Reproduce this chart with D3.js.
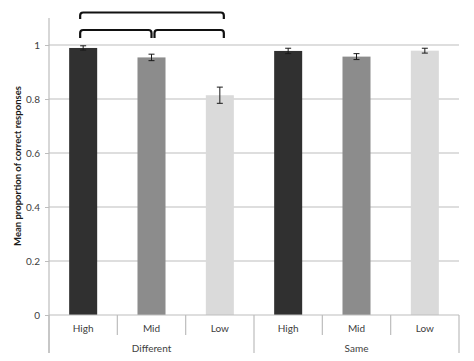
<!DOCTYPE html>
<html><head><meta charset="utf-8">
<script src="https://cdn.jsdelivr.net/npm/d3@7"></script>
<style>body{margin:0;background:#fff}svg{display:block}text{font-family:Lato,"Open Sans",sans-serif}</style>
</head><body>
<svg id="c" width="474" height="361"></svg>
<script>
const groups = ["Different", "Same"];
const levels = ["High", "Mid", "Low"];
const means = [0.989, 0.954, 0.814, 0.978, 0.957, 0.979];
const errors = [0.008, 0.012, 0.030, 0.010, 0.011, 0.009];
const colors = ["#303030", "#8c8c8c", "#dadada"];
const yTicks = [0, 0.2, 0.4, 0.6, 0.8, 1];
const yTickLabels = ["0", "0.2", "0.4", "0.6", "0.8", "1"];
const brackets = [ {from: 0, to: 2, level: 2}, {from: 0, to: 1, level: 1}, {from: 1, to: 2, level: 1} ];

const cats = [];
groups.forEach((g, gi) => levels.forEach((l, li) => cats.push({id: gi*3+li, group: g, level: l, li})));

const svg = d3.select("#c");
const left = 49, right = 459, y0 = 315;
const x = d3.scaleBand().domain(cats.map(d => d.id)).range([left, right]).paddingInner(0).paddingOuter(0);
const y = d3.scaleLinear().domain([0, 1.1]).range([y0, 18]);
const bw = x.bandwidth() * 0.41;

// gridlines
svg.append("g").selectAll("line").data(yTicks.filter(d => d > 0)).join("line")
  .attr("x1", left).attr("x2", right).attr("y1", d => y(d)).attr("y2", d => y(d))
  .attr("stroke", "#bdbdbd").attr("stroke-width", 1.2);

// y axis
const yAxis = d3.axisLeft(y).tickValues(yTicks).tickFormat((d, i) => yTickLabels[i]).tickSize(4).tickPadding(5);
const ya = svg.append("g").attr("transform", `translate(${left},0)`).call(yAxis);
ya.select(".domain").remove();
ya.selectAll(".tick line").attr("stroke", "#bdbdbd");
ya.selectAll(".tick text").attr("font-size", 10).attr("fill", "#404040");
svg.append("line").attr("x1", left).attr("x2", left).attr("y1", y(1.1)).attr("y2", 353).attr("stroke", "#bdbdbd").attr("stroke-width", 1.2);

// bars
svg.append("g").selectAll("rect").data(cats).join("rect")
  .attr("x", d => x(d.id) + x.bandwidth()/2 - bw/2)
  .attr("width", bw)
  .attr("y", d => y(means[d.id]))
  .attr("height", d => y(0) - y(means[d.id]))
  .attr("fill", d => colors[d.li]);

// error bars
const eb = svg.append("g").attr("stroke", "#1a1a1a").attr("stroke-width", 1);
cats.forEach(d => {
  const cx = x(d.id) + x.bandwidth()/2;
  const hi = y(means[d.id] + errors[d.id]), lo = y(means[d.id] - errors[d.id]);
  eb.append("line").attr("x1", cx).attr("x2", cx).attr("y1", hi).attr("y2", lo);
  eb.append("line").attr("x1", cx-3).attr("x2", cx+3).attr("y1", hi).attr("y2", hi);
  eb.append("line").attr("x1", cx-3).attr("x2", cx+3).attr("y1", lo).attr("y2", lo);
});

// x axis baseline
svg.append("line").attr("x1", left).attr("x2", right).attr("y1", y0).attr("y2", y0).attr("stroke", "#bdbdbd").attr("stroke-width", 1.2);

// category separators
const bounds = d3.range(cats.length + 1).map(i => i < cats.length ? x(i) : right);
svg.append("g").selectAll("line").data(bounds.map((b, i) => ({b, i}))).join("line")
  .attr("x1", d => d.b).attr("x2", d => d.b)
  .attr("y1", y0).attr("y2", d => d.i % 3 === 0 ? 353 : 335)
  .attr("stroke", "#bdbdbd").attr("stroke-width", 1.2);

// category labels
svg.append("g").selectAll("text").data(cats).join("text")
  .attr("x", d => x(d.id) + x.bandwidth()/2).attr("y", 332)
  .attr("text-anchor", "middle").attr("font-size", 10).attr("fill", "#404040")
  .text(d => d.level);
svg.append("g").selectAll("text").data(groups).join("text")
  .attr("x", (d, i) => (x(i*3) + (i*3+3 < cats.length ? x(i*3+3) : right)) / 2).attr("y", 352)
  .attr("text-anchor", "middle").attr("font-size", 10).attr("fill", "#404040")
  .text(d => d);

// y title
svg.append("text").attr("transform", "translate(21,166) rotate(-90)")
  .attr("text-anchor", "middle").attr("font-size", 9.5).attr("font-weight", "bold").attr("fill", "#1a1a1a")
  .text("Mean proportion of correct responses");

// brackets
const bg = svg.append("g").attr("fill", "none").attr("stroke", "#111").attr("stroke-width", 2.2);
brackets.forEach(b => {
  const cx1 = x(b.from) + x.bandwidth()/2, cx2 = x(b.to) + x.bandwidth()/2;
  const x1 = b.from < b.to && b.level === 1 && b.from > 0 ? cx1 + 3 : cx1 - 3;
  const x2 = b.level === 1 && b.to === 1 ? cx2 : cx2 + 4;
  const yt = b.level === 2 ? 12.5 : 30;
  const yb = yt + (b.level === 2 ? 6.5 : 8);
  const r = 3;
  bg.append("path").attr("d", `M${x1},${yb} L${x1},${yt+r} Q${x1},${yt} ${x1+r},${yt} L${x2-r},${yt} Q${x2},${yt} ${x2},${yt+r} L${x2},${yb}`);
});
</script>
</body></html>
